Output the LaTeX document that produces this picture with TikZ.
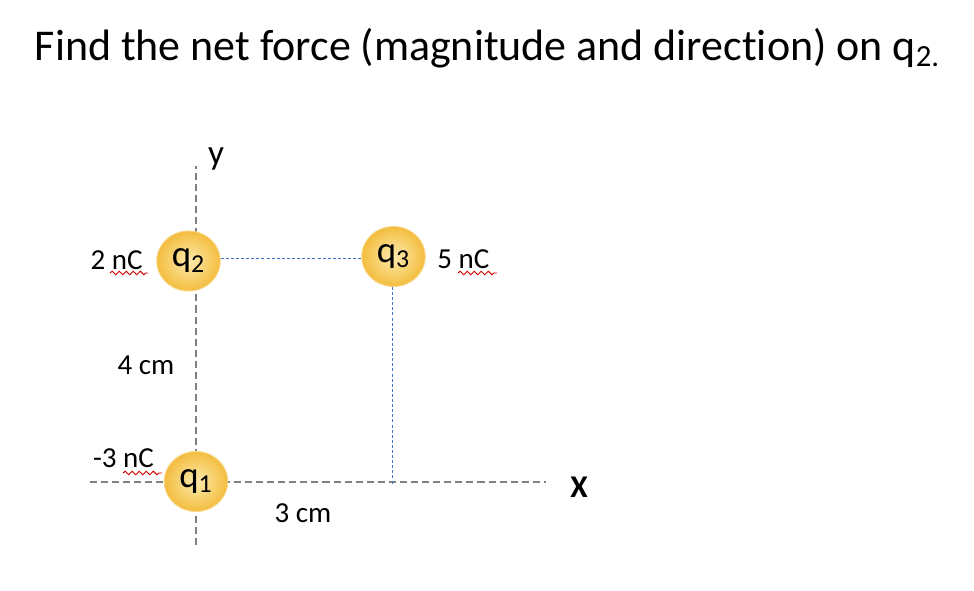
\documentclass[tikz,border=0pt]{standalone}
\usepackage{fontspec}
\setmainfont{Carlito}[Ligatures=CommonOff]
\usetikzlibrary{positioning,decorations.pathmorphing}
\definecolor{axisgray}{HTML}{808080}
\definecolor{guideblue}{HTML}{4472C4}
\definecolor{chargein}{HTML}{FDEBAE}
\definecolor{chargeout}{HTML}{F3BD3E}
\tikzset{
	charge/.style={ellipse,minimum width=1.27cm,minimum height=1.2cm,inner sep=0pt,
		draw=chargeout!60!white,line width=0.5pt,shading=radial,inner color=chargein,outer color=chargeout,
		font=\fontsize{21}{23}\selectfont},
	axisline/.style={axisgray,line width=1.1pt,dash pattern=on 4pt off 2.3pt},
	guide/.style={guideblue,line width=0.55pt,dash pattern=on 1.7pt off 1.2pt},
	lbl/.style={font=\fontsize{16.5}{18}\selectfont,inner sep=0pt},
	squig/.style={red!85!black,line width=0.55pt,decorate,decoration={snake,segment length=4pt,amplitude=1pt}}
}
\usetikzlibrary{shapes.geometric}
\begin{document}
\begin{tikzpicture}
		\useasboundingbox (0,0) rectangle (19.48,11.8);
		%title
		\node (title) at (9.75,10.84) {\fontsize{25}{30}\selectfont Find the net force (magnitude and direction) on q\textsubscript{2.}};
		
		%axes
		\coordinate (ytop) at (3.92,8.48);
		\coordinate (ybot) at (3.92,0.9);
		\coordinate (xleft) at (1.8,2.16);
		\coordinate (xright) at (10.92,2.16);
		\draw[axisline] (ybot) -- (ytop);
		\draw[axisline] (xleft) -- (xright);
		\node (ylab) at (4.32,8.62) {\fontsize{20}{22}\selectfont y};
		\node (xlab) at (11.58,2.06) {\fontsize{18}{20}\selectfont\bfseries X};
		
		%charges
		\node[charge] (q1) at (3.92,2.17) {q\textsubscript{1}};
		\node[charge] (q2) at (3.77,6.58) {q\textsubscript{2}};
		\node[charge] (q3) at (7.87,6.67) {q\textsubscript{3}};
		
		%guides to q3
		\coordinate (q3foot) at (7.84,2.1);
		\draw[guide] (q2.east |- 0,6.64) -- (q3.west |- 0,6.64);
		\draw[guide] (q3.south -| q3foot) -- (q3foot);
		
		%values
		\node[lbl,anchor=east] (c2) at (2.86,6.6) {2 nC};
		\node[lbl,anchor=west] (c3) at (8.74,6.62) {5 nC};
		\node[lbl] (c1) at (2.47,2.64) {-3 nC};
		\node[lbl] (d24) at (2.92,4.5) {4 cm};
		\node[lbl] (d13) at (6.06,1.54) {3 cm};
		
		%spell check marks
		\draw[squig] (2.2,6.34) -- (2.96,6.34);
		\draw[squig] (9.16,6.34) -- (9.94,6.34);
		\draw[squig] (2.46,2.34) -- (3.24,2.34);
\end{tikzpicture}
\end{document}
